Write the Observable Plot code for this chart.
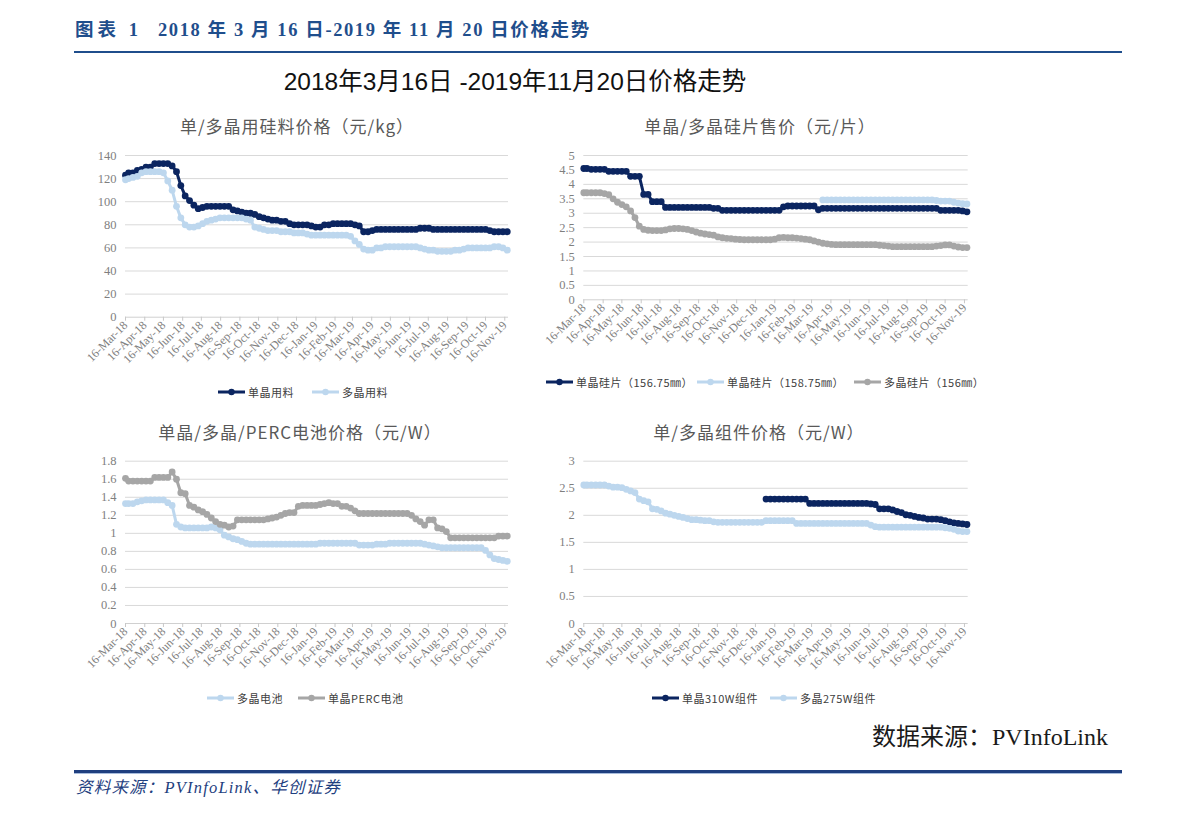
<!DOCTYPE html>
<html><head><meta charset="utf-8">
<script src="https://cdn.jsdelivr.net/npm/d3@7"></script>
<script src="https://cdn.jsdelivr.net/npm/@observablehq/plot@0.6"></script>
<style>
body{margin:0;background:#fff;}
#root{position:relative;width:1191px;height:819px;background:#fff;overflow:hidden;font-family:"Noto Sans CJK SC",sans-serif;}
.abs{position:absolute;white-space:pre;line-height:1;}
.ptitle{position:absolute;transform:translateX(-50%);font-size:17px;color:#595959;letter-spacing:1px;white-space:nowrap;line-height:1;}
.leg{position:absolute;display:flex;align-items:center;font-size:11px;color:#404040;white-space:nowrap;line-height:1;letter-spacing:0.5px;}
.leg svg{margin-right:3px;}
.panel{position:absolute;}
</style></head>
<body><div id="root"></div>
<script>
// ---------- data ----------
const dates = [
"2018-03-16","2018-03-21","2018-03-28","2018-04-04","2018-04-11","2018-04-18","2018-04-25","2018-05-02","2018-05-09","2018-05-16",
"2018-05-23","2018-05-30","2018-06-06","2018-06-13","2018-06-20","2018-06-27","2018-07-04","2018-07-11","2018-07-18","2018-07-25",
"2018-08-01","2018-08-08","2018-08-15","2018-08-22","2018-08-29","2018-09-05","2018-09-12","2018-09-19","2018-09-26","2018-10-03",
"2018-10-10","2018-10-17","2018-10-24","2018-10-31","2018-11-07","2018-11-14","2018-11-21","2018-11-28","2018-12-05","2018-12-12",
"2018-12-19","2018-12-26","2019-01-02","2019-01-09","2019-01-16","2019-01-23","2019-01-30","2019-02-06","2019-02-13","2019-02-20",
"2019-02-27","2019-03-06","2019-03-13","2019-03-20","2019-03-27","2019-04-03","2019-04-10","2019-04-17","2019-04-24","2019-05-01",
"2019-05-08","2019-05-15","2019-05-22","2019-05-29","2019-06-05","2019-06-12","2019-06-19","2019-06-26","2019-07-03","2019-07-10",
"2019-07-17","2019-07-24","2019-07-31","2019-08-07","2019-08-14","2019-08-21","2019-08-28","2019-09-04","2019-09-11","2019-09-18",
"2019-09-25","2019-10-02","2019-10-09","2019-10-16","2019-10-23","2019-10-30","2019-11-06","2019-11-13","2019-11-20"];

const tickLabelDates = ["2018-03-16","2018-04-16","2018-05-16","2018-06-16","2018-07-16","2018-08-16","2018-09-16",
"2018-10-16","2018-11-16","2018-12-16","2019-01-16","2019-02-16","2019-03-16","2019-04-16","2019-05-16","2019-06-16",
"2019-07-16","2019-08-16","2019-09-16","2019-10-16","2019-11-16"];

// Panel 1: 单/多晶用硅料价格（元/kg）
const monoPoly = [
123,125,125,127,128,130,130,133,133,133,
133,131,126,114,105,101,97,94,95,96,
96,96,96,96,96,93,92,91,90,90,
89,87,86,85,84,84,83,83,81,80,
80,80,80,79,78,78,80,80,81,81,
81,81,81,80,79,74,74,75,76,76,
76,76,76,76,76,76,76,76,77,77,
77,76,76,76,76,76,76,76,76,76,
76,76,76,76,75,74,74,74,74];
const multiPoly = [
119,120,121,122,125,126,126,126,126,125,
118,110,96,86,80,78,78,79,81,83,
84,85,86,86,86,86,86,86,85,84,
78,77,76,75,75,75,74,74,74,73,
73,73,72,71,71,71,71,71,71,71,
71,71,70,66,63,59,58,58,60,60,
61,61,61,61,61,61,61,61,60,59,
58,58,57,57,57,57,58,58,59,60,
60,60,60,60,60,61,61,60,58];

// Panel 2: 单晶/多晶硅片售价（元/片）
const monoWafer15675 = [
4.55,4.55,4.52,4.52,4.52,4.52,4.45,4.45,4.45,4.45,
4.45,4.28,4.28,4.28,3.65,3.65,3.40,3.40,3.40,3.20,
3.20,3.20,3.20,3.20,3.20,3.20,3.20,3.20,3.20,3.20,
3.17,3.17,3.10,3.10,3.10,3.10,3.10,3.10,3.10,3.10,
3.10,3.10,3.10,3.10,3.10,3.10,3.22,3.25,3.25,3.25,
3.25,3.25,3.25,3.25,3.12,3.17,3.17,3.17,3.17,3.17,
3.17,3.17,3.17,3.17,3.17,3.17,3.17,3.17,3.17,3.17,
3.17,3.17,3.17,3.17,3.17,3.17,3.17,3.17,3.17,3.17,
3.17,3.17,3.10,3.10,3.10,3.10,3.10,3.08,3.05];
const monoWafer15875 = [
null,null,null,null,null,null,null,null,null,null,
null,null,null,null,null,null,null,null,null,null,
null,null,null,null,null,null,null,null,null,null,
null,null,null,null,null,null,null,null,null,null,
null,null,null,null,null,null,null,null,null,null,
null,null,null,null,null,3.46,3.46,3.46,3.46,3.46,
3.46,3.46,3.46,3.46,3.46,3.46,3.46,3.46,3.46,3.46,
3.46,3.46,3.46,3.46,3.46,3.46,3.46,3.46,3.46,3.46,
3.46,3.44,3.42,3.42,3.42,3.38,3.35,3.33,3.32];
const multiWafer156 = [
3.71,3.71,3.71,3.71,3.71,3.68,3.64,3.50,3.38,3.30,
3.22,3.08,2.85,2.55,2.44,2.41,2.40,2.40,2.40,2.42,
2.46,2.47,2.47,2.46,2.44,2.40,2.35,2.31,2.28,2.26,
2.24,2.18,2.15,2.13,2.12,2.10,2.09,2.08,2.08,2.08,
2.08,2.08,2.08,2.08,2.10,2.15,2.16,2.15,2.15,2.14,
2.12,2.10,2.08,2.04,2.00,1.96,1.94,1.92,1.91,1.91,
1.91,1.91,1.91,1.91,1.91,1.91,1.91,1.91,1.89,1.88,
1.86,1.84,1.84,1.84,1.84,1.84,1.84,1.84,1.84,1.84,
1.84,1.86,1.88,1.90,1.90,1.86,1.83,1.81,1.81];

// Panel 3: 单晶/多晶/PERC电池价格（元/W）
const multiCell = [
1.33,1.33,1.33,1.35,1.36,1.37,1.37,1.37,1.37,1.37,
1.34,1.31,1.10,1.07,1.06,1.06,1.06,1.06,1.06,1.06,
1.07,1.06,1.04,0.98,0.96,0.94,0.93,0.91,0.89,0.88,
0.88,0.88,0.88,0.88,0.88,0.88,0.88,0.88,0.88,0.88,
0.88,0.88,0.88,0.88,0.88,0.89,0.89,0.89,0.89,0.89,
0.89,0.89,0.89,0.89,0.87,0.87,0.87,0.87,0.88,0.88,
0.88,0.89,0.89,0.89,0.89,0.89,0.89,0.89,0.89,0.88,
0.87,0.86,0.85,0.84,0.84,0.84,0.84,0.84,0.84,0.84,
0.84,0.84,0.84,0.81,0.76,0.72,0.71,0.70,0.69];
const monoPercCell = [
1.61,1.58,1.58,1.58,1.58,1.58,1.58,1.62,1.62,1.62,
1.62,1.68,1.60,1.45,1.44,1.31,1.29,1.26,1.24,1.21,
1.17,1.13,1.10,1.09,1.07,1.08,1.15,1.15,1.15,1.15,
1.15,1.15,1.15,1.16,1.17,1.18,1.20,1.22,1.23,1.23,
1.30,1.31,1.31,1.31,1.31,1.32,1.33,1.34,1.33,1.33,
1.30,1.30,1.28,1.25,1.22,1.22,1.22,1.22,1.22,1.22,
1.22,1.22,1.22,1.22,1.22,1.22,1.20,1.16,1.13,1.09,
1.15,1.15,1.06,1.05,1.02,0.95,0.95,0.95,0.95,0.95,
0.95,0.95,0.95,0.95,0.95,0.95,0.97,0.97,0.97];

// Panel 4: 单/多晶组件价格（元/W）
const monoModule310 = [
null,null,null,null,null,null,null,null,null,null,
null,null,null,null,null,null,null,null,null,null,
null,null,null,null,null,null,null,null,null,null,
null,null,null,null,null,null,null,null,null,null,
null,null,2.30,2.30,2.30,2.30,2.30,2.30,2.30,2.30,
2.30,2.30,2.22,2.22,2.22,2.22,2.22,2.22,2.22,2.22,
2.22,2.22,2.22,2.22,2.22,2.22,2.21,2.20,2.12,2.12,
2.12,2.10,2.07,2.05,2.01,2.00,1.98,1.96,1.95,1.93,
1.93,1.93,1.92,1.90,1.88,1.86,1.85,1.84,1.83];
const multiModule275 = [
2.56,2.56,2.56,2.56,2.56,2.56,2.54,2.52,2.52,2.51,
2.48,2.45,2.42,2.30,2.27,2.25,2.12,2.11,2.08,2.04,
2.02,2.00,1.98,1.96,1.94,1.92,1.92,1.91,1.90,1.90,
1.88,1.87,1.87,1.87,1.87,1.87,1.87,1.87,1.87,1.87,
1.87,1.87,1.90,1.90,1.90,1.90,1.90,1.90,1.90,1.85,
1.85,1.85,1.85,1.85,1.85,1.85,1.85,1.85,1.85,1.85,
1.85,1.85,1.85,1.85,1.85,1.85,1.82,1.79,1.78,1.78,
1.78,1.78,1.78,1.78,1.78,1.78,1.78,1.78,1.78,1.78,
1.78,1.78,1.78,1.77,1.76,1.74,1.71,1.70,1.70];

const yTicks1 = [0,20,40,60,80,100,120,140];
const yTicks2 = [0,0.5,1,1.5,2,2.5,3,3.5,4,4.5,5];
const yTicks3 = [0,0.2,0.4,0.6,0.8,1,1.2,1.4,1.6,1.8];
const yTicks4 = [0,0.5,1,1.5,2,2.5,3];

const DARK = "#0b2560", LIGHT = "#bdd7ee", GRAY = "#a6a6a6";

// ---------- layout ----------
const root = document.getElementById("root");
function addText(txt, css) {
  const d = document.createElement("div");
  d.className = "abs";
  d.textContent = txt;
  Object.assign(d.style, css);
  root.appendChild(d);
  return d;
}
function addBox(css) {
  const d = document.createElement("div");
  d.style.position = "absolute";
  Object.assign(d.style, css);
  root.appendChild(d);
}

// header
const hdrFont = "'Liberation Serif','Noto Sans CJK SC',serif";
addText("图表 1", {left:"75px", top:"21px", fontSize:"18.5px", fontWeight:"bold", color:"#1f4e8c",
  fontFamily:hdrFont, letterSpacing:"4px"});
addText("2018 年 3 月 16 日-2019 年 11 月 20 日价格走势", {left:"158px", top:"21px", fontSize:"18.5px", fontWeight:"bold", color:"#1f4e8c",
  fontFamily:hdrFont, letterSpacing:"1.6px"});
addBox({left:"74px", top:"51px", width:"1048px", height:"2px", background:"#1f4e8c"});

// main title
addText("2018年3月16日 -2019年11月20日价格走势", {left:"515px", top:"70px", fontSize:"24.5px", color:"#111",
  fontFamily:"'Liberation Sans','Noto Sans CJK SC',sans-serif", transform:"translateX(-50%)"});

function addTitle(txt, cx, cy) {
  const d = document.createElement("div");
  d.className = "ptitle";
  d.textContent = txt;
  d.style.left = cx + "px";
  d.style.top = (cy - 9) + "px";
  root.appendChild(d);
}
addTitle("单/多晶用硅料价格（元/kg）", 297, 126);
addTitle("单晶/多晶硅片售价（元/片）", 760, 126);
addTitle("单晶/多晶/PERC电池价格（元/W）", 300, 432);
addTitle("单/多晶组件价格（元/W）", 759, 432);

const fmt = d3.utcFormat("%d-%b-%y");
const yFmt = d => String(+d.toFixed(2));
const tickDates = tickLabelDates.map(d => new Date(d));
const xDomain = [new Date("2018-03-16"), new Date("2019-11-22")];

function makePanel(p) {
  const marks = [
    Plot.gridY(p.yTicks.filter(t => t > 0), {stroke:"#d9d9d9", strokeOpacity:1, strokeWidth:1}),
    Plot.ruleY([0], {stroke:"#d0d0d0"}),
    Plot.axisY(p.yTicks, {tickSize:0, tickPadding:9, fontSize:12.5, fill:"#7f7f7f", label:null, tickFormat:yFmt}),
    Plot.axisX(tickDates, {tickFormat:fmt, tickRotate:-45, tickSize:4, tickPadding:2, stroke:"#c8c8c8",
      fontSize:12, fill:"#7f7f7f", label:null})
  ];
  for (const s of p.series) {
    const data = dates.map((d, i) => ({date: new Date(d), value: s.values[i]})).filter(v => v.value != null);
    marks.push(Plot.line(data, {x:"date", y:"value", stroke:s.color, strokeWidth:3}));
    marks.push(Plot.dot(data, {x:"date", y:"value", r:3.4, fill:s.color, stroke:"none"}));
  }
  const svg = Plot.plot({
    width:p.width, height:p.height,
    marginLeft:p.mL, marginRight:p.mR, marginTop:p.mT, marginBottom:p.mB,
    x:{type:"utc", domain:xDomain},
    y:{domain:p.yDomain},
    style:{fontFamily:"'Liberation Serif',serif", background:"transparent", color:"#7f7f7f", overflow:"visible"},
    marks
  });
  svg.classList.add("panel");
  svg.style.left = p.left + "px";
  svg.style.top = p.top + "px";
  root.appendChild(svg);
}

makePanel({left:85, top:145, width:440, height:235, mL:40, mR:17, mT:10, mB:63.3,
  yDomain:[0,140], yTicks:yTicks1,
  series:[{values:monoPoly, color:DARK}, {values:multiPoly, color:LIGHT}]});
makePanel({left:545, top:145, width:440, height:220, mL:38.3, mR:17.3, mT:10, mB:65.7,
  yDomain:[0,5], yTicks:yTicks2,
  series:[{values:monoWafer15675, color:DARK}, {values:monoWafer15875, color:LIGHT}, {values:multiWafer156, color:GRAY}]});
makePanel({left:85, top:450, width:440, height:230, mL:40, mR:17, mT:10.7, mB:57,
  yDomain:[0,1.8], yTicks:yTicks3,
  series:[{values:multiCell, color:LIGHT}, {values:monoPercCell, color:GRAY}]});
makePanel({left:545, top:450, width:440, height:230, mL:38.3, mR:17.3, mT:10.7, mB:57,
  yDomain:[0,3], yTicks:yTicks4,
  series:[{values:monoModule310, color:DARK}, {values:multiModule275, color:LIGHT}]});

function legendItem(x, cy, color, label) {
  const d = document.createElement("div");
  d.className = "leg";
  d.style.left = x + "px";
  d.style.top = (cy - 6) + "px";
  d.style.height = "12px";
  d.innerHTML = `<svg width="27" height="10"><line x1="0" y1="5" x2="27" y2="5" stroke="${color}" stroke-width="3"/><circle cx="13.5" cy="5" r="3.2" fill="${color}"/></svg><span>${label}</span>`;
  root.appendChild(d);
}
legendItem(218, 392, DARK, "单晶用料");
legendItem(312, 392, LIGHT, "多晶用料");
legendItem(546, 382, DARK, "单晶硅片（156.75㎜）");
legendItem(697, 382, LIGHT, "单晶硅片（158.75㎜）");
legendItem(854, 382, GRAY, "多晶硅片（156㎜）");
legendItem(207, 698, LIGHT, "多晶电池");
legendItem(298, 698, GRAY, "单晶PERC电池");
legendItem(652, 698, DARK, "单晶310W组件");
legendItem(770, 698, LIGHT, "多晶275W组件");

// source
addText("数据来源：PVInfoLink", {left:"1108px", top:"725px", fontSize:"24px", color:"#1a1a1a",
  fontFamily:"'Liberation Serif','Noto Sans CJK SC',serif", transform:"translateX(-100%)"});

// footer
addBox({left:"74px", top:"770px", width:"1048px", height:"2.5px", background:"#1f3f7f"});
addBox({left:"74px", top:"773px", width:"1048px", height:"1px", background:"#a8bcdc"});
addText("资料来源：PVInfoLink、华创证券", {left:"76px", top:"780px", fontSize:"16.5px", fontStyle:"italic", color:"#1f3f7f",
  fontFamily:"'Liberation Serif','Noto Sans CJK SC',serif", letterSpacing:"1.2px"});
</script></body></html>
